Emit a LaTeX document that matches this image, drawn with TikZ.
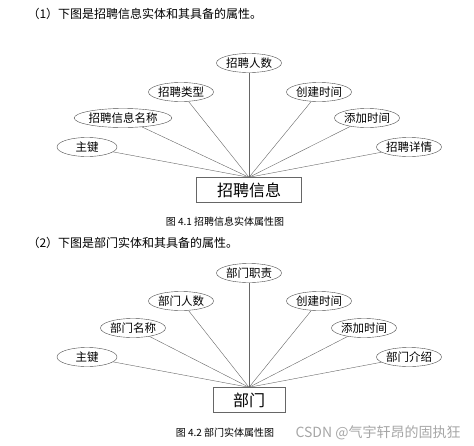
\documentclass[tikz,border=0pt]{standalone}
\usepackage{fontspec}
\setmainfont{Noto Sans CJK SC}
\usetikzlibrary{shapes.geometric}

\begin{document}
\begin{tikzpicture}[x=1pt,y=-1pt,
  attr/.style={draw=black!70,ellipse,minimum width=60pt,minimum height=19pt,inner sep=0pt,font=\fontsize{11.5}{11.5}\selectfont},
  entity/.style={draw=black!60,minimum height=25pt,inner sep=0pt,font=\fontsize{16}{16}\selectfont},
  link/.style={draw=black!60}]
\useasboundingbox (0,0) rectangle (474,445);
\node[anchor=west,font=\fontsize{12}{12}\selectfont] (t1) at (24,14) {（1）下图是招聘信息实体和其具备的属性。};
\node[entity,minimum width=105pt] (job) at (249,190) {招聘信息};
\node[attr] (jnum) at (249,63) {招聘人数};
\node[attr,minimum width=54pt] (jtype) at (181,92) {招聘类型};
\node[attr] (jcreate) at (319,92) {创建时间};
\node[attr,minimum width=80pt] (jname) at (123,118) {招聘信息名称};
\node[attr] (jadd) at (367,118) {添加时间};
\node[attr] (jkey) at (87,147) {主键};
\node[attr] (jdetail) at (409,147) {招聘详情};
\draw[link] (jkey) -- (job.north);
\draw[link] (jname) -- (job.north);
\draw[link] (jtype) -- (job.north);
\draw[link] (jnum) -- (job.north);
\draw[link] (jcreate) -- (job.north);
\draw[link] (jadd) -- (job.north);
\draw[link] (jdetail) -- (job.north);
\node[font=\fontsize{10}{10}\selectfont] (c1) at (225,222) {图 4.1 招聘信息实体属性图};

\node[anchor=west,font=\fontsize{12}{12}\selectfont] (t2) at (24,243) {（2）下图是部门实体和其具备的属性。};
\node[entity,minimum width=72pt] (dept) at (249,400) {部门};
\node[attr] (dduty) at (249,273) {部门职责};
\node[attr] (dnum) at (181,301) {部门人数};
\node[attr] (dcreate) at (319,301) {创建时间};
\node[attr,minimum width=62pt] (dname) at (133,328) {部门名称};
\node[attr] (dadd) at (364,328) {添加时间};
\node[attr] (dkey) at (87,357) {主键};
\node[attr] (dintro) at (409,357) {部门介绍};
\draw[link] (dkey) -- (dept.north);
\draw[link] (dname) -- (dept.north);
\draw[link] (dnum) -- (dept.north);
\draw[link] (dduty) -- (dept.north);
\draw[link] (dcreate) -- (dept.north);
\draw[link] (dadd) -- (dept.north);
\draw[link] (dintro) -- (dept.north);
\node[font=\fontsize{10}{10}\selectfont] (c2) at (225,433) {图 4.2 部门实体属性图};
\node[anchor=west,text=black!35,font=\fontsize{14}{14}\selectfont] (mark) at (292,433) {CSDN @气宇轩昂的固执狂};
\end{tikzpicture}
\end{document}
